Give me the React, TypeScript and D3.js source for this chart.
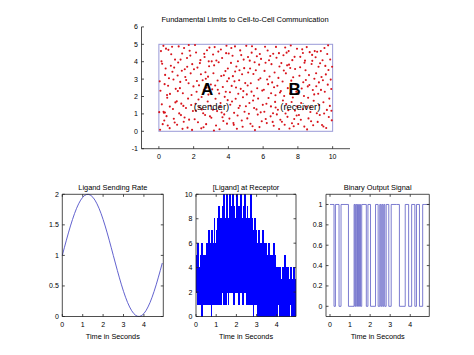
import React from "react";
import * as d3 from "d3";

// ---------- data ----------
// top: particle positions (x, y)
const particlesX: number[] = [
0.12,0.35,0.78,0.05,0.51,0.93,0.27,0.64,0.19,0.86,0.41,0.07,0.58,0.95,0.33,0.71,0.22,0.48,0.84,0.15,0.62,0.39,0.97,0.29,0.55,0.81,0.09,0.44,0.69,0.26,0.91,0.53,0.17,0.76,0.36,0.63,0.02,0.88,0.47,0.31,
1.08,1.43,1.77,1.21,1.56,1.92,1.34,1.65,1.03,1.88,1.27,1.49,1.71,1.14,1.96,1.38,1.62,1.05,1.83,1.29,1.57,1.74,1.11,1.45,1.91,1.23,1.68,1.36,1.81,1.52,1.17,1.99,1.41,1.63,1.25,1.86,1.09,1.72,1.48,1.32,
2.14,2.47,2.83,2.06,2.59,2.91,2.28,2.72,2.36,2.97,2.19,2.63,2.44,2.85,2.02,2.55,2.77,2.31,2.68,2.11,2.94,2.39,2.52,2.25,2.81,2.08,2.66,2.42,2.89,2.17,2.74,2.33,2.61,2.99,2.22,2.57,2.87,2.46,2.13,2.70,
3.07,3.42,3.76,3.18,3.55,3.93,3.29,3.64,3.11,3.83,3.47,3.21,3.71,3.38,3.96,3.04,3.59,3.26,3.87,3.49,3.14,3.68,3.35,3.92,3.02,3.57,3.79,3.24,3.44,3.85,3.12,3.66,3.31,3.52,3.97,3.17,3.74,3.39,3.61,3.89,
4.11,4.46,4.82,4.24,4.57,4.93,4.35,4.68,4.06,4.79,4.42,4.15,4.71,4.29,4.88,4.53,4.19,4.64,4.38,4.97,4.02,4.59,4.84,4.26,4.49,4.74,4.09,4.33,4.91,4.62,4.17,4.44,4.77,4.55,4.21,4.86,4.39,4.03,4.66,4.31,
5.13,5.48,5.84,5.06,5.57,5.92,5.25,5.71,5.39,5.03,5.66,5.18,5.88,5.44,5.29,5.77,5.09,5.62,5.95,5.34,5.53,5.21,5.81,5.47,5.14,5.69,5.36,5.98,5.27,5.74,5.58,5.11,5.42,5.86,5.23,5.64,5.01,5.79,5.51,5.33,
6.08,6.43,6.77,6.19,6.52,6.94,6.26,6.61,6.04,6.85,6.37,6.71,6.15,6.58,6.92,6.31,6.66,6.11,6.82,6.45,6.23,6.74,6.55,6.97,6.34,6.69,6.07,6.48,6.88,6.21,6.63,6.41,6.79,6.14,6.57,6.91,6.29,6.72,6.46,6.99,
7.12,7.47,7.83,7.24,7.56,7.91,7.33,7.68,7.05,7.79,7.42,7.17,7.73,7.29,7.95,7.52,7.21,7.64,7.38,7.87,7.08,7.59,7.31,7.96,7.45,7.76,7.14,7.62,7.35,7.84,7.02,7.49,7.71,7.27,7.93,7.55,7.19,7.81,7.40,7.66,
8.13,8.48,8.82,8.06,8.57,8.91,8.25,8.64,8.37,8.03,8.76,8.41,8.19,8.68,8.95,8.31,8.53,8.86,8.14,8.72,8.44,8.09,8.61,8.97,8.28,8.79,8.35,8.66,8.02,8.51,8.88,8.22,8.59,8.94,8.38,8.74,8.17,8.46,8.83,8.29,
9.11,9.44,9.78,9.23,9.58,9.92,9.32,9.67,9.05,9.86,9.39,9.72,9.17,9.53,9.95,9.28,9.63,9.09,9.81,9.47,9.21,9.76,9.36,9.89,9.02,9.55,9.69,9.14,9.97,9.42,9.26,9.84,9.51,9.06,9.74,9.33,9.61,9.93,9.19,9.47
];
const particlesY: number[] = [
4.61,1.08,3.42,2.87,0.33,4.12,1.12,2.15,3.88,0.72,4.75,0.09,3.05,1.66,2.71,4.43,0.41,1.93,2.98,4.02,0.18,3.61,2.44,1.07,4.68,1.28,2.33,0.87,3.77,4.91,0.51,2.62,1.55,4.86,3.24,1.42,1.10,3.66,2.08,0.62,
3.21,0.55,4.63,2.48,1.34,3.86,4.47,0.21,1.72,2.09,0.93,3.57,2.76,4.88,1.17,2.19,4.21,0.38,3.33,1.59,2.95,0.67,3.95,4.79,0.08,2.84,1.88,0.14,4.35,3.12,1.03,2.58,1.46,3.71,4.12,1.51,2.31,4.96,0.79,3.48,
4.53,1.26,3.14,0.69,2.37,4.81,1.83,0.41,3.92,1.47,2.89,4.27,0.17,2.11,3.57,1.04,4.66,2.64,3.39,1.58,0.86,4.09,2.93,0.52,1.71,4.96,0.94,3.28,3.74,2.27,2.51,1.38,4.45,2.69,3.66,0.23,4.02,1.97,1.19,3.02,
2.41,4.58,0.97,3.79,1.62,2.88,0.33,4.21,1.24,3.46,2.17,4.84,0.59,2.92,1.79,4.02,3.18,1.87,4.49,0.12,3.34,2.55,1.16,0.44,0.78,4.70,1.98,2.63,3.97,2.27,4.41,0.81,4.07,1.41,3.61,0.05,3.22,2.39,1.08,4.92,
1.53,3.72,0.26,4.34,2.16,1.12,2.87,4.65,0.73,3.28,1.87,3.93,2.44,0.48,4.12,0.91,2.61,3.51,4.88,2.77,4.47,1.34,1.96,3.17,0.15,4.38,2.24,1.06,3.63,2.93,4.79,2.52,0.62,4.03,1.71,2.31,3.44,3.04,1.47,0.37,
4.27,1.34,3.05,2.12,4.72,0.58,3.61,1.88,0.29,4.91,2.47,1.01,4.16,3.29,2.76,3.83,0.74,1.26,2.34,4.52,0.07,1.63,4.44,2.04,3.38,0.96,4.89,1.52,0.43,2.96,3.51,2.63,1.77,1.09,4.06,4.31,1.44,0.24,3.97,2.28,
3.47,0.86,4.23,1.58,2.81,3.72,4.64,0.32,2.39,1.24,3.15,2.07,0.71,4.46,0.13,1.91,3.38,4.86,2.62,1.43,2.98,4.85,0.54,2.23,4.08,1.69,1.12,3.86,3.07,0.47,2.53,4.33,0.97,3.94,1.04,4.49,2.71,1.37,2.19,0.66,
2.86,4.61,1.19,0.38,3.64,2.27,1.57,4.09,3.92,0.71,2.48,4.37,3.11,1.02,4.74,0.16,2.03,1.68,3.79,2.69,0.55,4.93,3.33,1.43,1.21,0.29,1.77,2.91,4.52,3.58,2.31,3.83,1.94,4.82,0.91,2.17,3.49,4.28,0.83,0.46,
3.68,1.42,4.39,0.94,2.58,1.76,4.71,3.23,0.27,2.14,0.58,4.06,1.63,4.55,3.02,2.82,0.11,2.37,4.28,1.11,3.51,3.19,0.74,4.61,1.27,3.87,2.03,2.66,0.42,4.84,0.35,2.46,1.93,2.12,3.94,1.38,0.66,2.95,4.05,4.50,
4.57,2.93,0.82,1.51,3.76,2.43,4.61,1.23,3.34,4.13,0.36,2.68,2.16,4.79,0.63,3.91,0.19,1.04,1.88,1.67,2.81,3.52,3.12,2.97,4.26,2.27,4.44,0.54,3.71,4.08,0.94,1.46,1.02,2.59,4.94,2.38,3.27,1.18,3.71,0.28
];

// bottom left: ligand sending rate, sampled every 0.1 s
const rateT: number[] = [0,0.1,0.2,0.3,0.4,0.5,0.6,0.7,0.8,0.9,1.0,1.1,1.2,1.3,1.4,1.5,1.6,1.7,1.8,1.9,2.0,2.1,2.2,2.3,2.4,2.5,2.6,2.7,2.8,2.9,3.0,3.1,3.2,3.3,3.4,3.5,3.6,3.7,3.8,3.9,4.0,4.1,4.2,4.3,4.4,4.5,4.6,4.7,4.8,4.9];
const rateV: number[] = [1,1.125,1.249,1.368,1.482,1.588,1.685,1.771,1.844,1.905,1.951,1.982,1.998,1.998,1.982,1.951,1.905,1.844,1.771,1.685,1.588,1.482,1.368,1.249,1.125,1.0,0.875,0.751,0.632,0.518,0.412,0.315,0.229,0.156,0.095,0.049,0.018,0.002,0.002,0.018,0.049,0.095,0.156,0.229,0.315,0.412,0.518,0.632,0.751,0.875];

// bottom middle: ligand count at receptor, one value every 0.02 s
const ligandStep = 0.02;
const ligandCount: number[] = [
5,2,4,1,6,2,5,1,3,1,4,2,5,1,6,0,3,4,1,5,2,1,4,1,5,
3,1,6,1,5,2,7,1,4,2,6,1,5,0,7,2,4,1,6,3,8,1,5,2,6,
2,7,1,8,3,6,1,9,2,7,3,8,1,6,2,9,4,7,1,10,3,8,2,7,1,
9,2,10,3,7,1,8,4,10,2,6,2,9,3,7,2,10,4,8,1,9,3,7,2,8,
3,10,2,8,4,9,1,7,3,9,2,10,4,8,2,7,1,9,3,8,2,10,4,7,2,
8,1,9,3,7,1,8,2,6,1,10,3,7,1,8,2,6,0,7,3,8,1,6,2,7,
1,6,0,5,2,7,0,6,3,5,0,6,2,4,0,7,1,5,0,6,1,4,0,6,0,
4,1,5,0,3,6,0,4,2,5,0,3,1,5,0,4,0,6,1,3,0,5,0,4,1,
3,0,4,1,2,3,0,4,0,3,2,0,3,1,4,0,2,3,0,5,0,3,2,4,0,
3,0,2,4,0,3,0,2,3,1,4,0,3,2,0,3,0,4,2,0,3,0,2
];

// bottom right: binary output, switching times and the level from each time on
const binT: number[] = [0,0.2,0.27,0.45,0.55,0.92,1.2,1.24,1.28,1.33,1.37,1.42,1.47,1.52,1.58,1.81,1.89,2.02,2.27,2.4,2.48,2.53,2.58,2.63,2.68,2.73,2.8,2.93,3.05,3.31,3.46,3.75,3.92,4.07,4.23,4.31,4.46,4.62,4.69,4.95];
const binV: number[] = [1,0,1,0,1,0,1,0,1,0,1,0,1,0,1,0,1,0,1,0,1,0,1,0,1,0,1,0,1,1,0,1,0,1,0,1,0,1,1,1];

const topXTicks = [0, 2, 4, 6, 8, 10];
const topYTicks = [-1, 0, 1, 2, 3, 4, 5, 6];
const timeTicks = [0, 1, 2, 3, 4];
const rateTicks = [0, 0.5, 1, 1.5, 2];
const countTicks = [0, 2, 4, 6, 8, 10];
const binTicks = [0, 0.2, 0.4, 0.6, 0.8, 1];

const FONT = "'Liberation Sans', Arial, Helvetica, sans-serif";

type Scale = d3.ScaleLinear<number, number>;

function Frame({ x, y, xt, yt, box, fmtY }: { x: Scale; y: Scale; xt: number[]; yt: number[]; box: boolean; fmtY?: (v: number) => string }) {
  const [x0, x1] = x.range();
  const [y0, y1] = y.range(); // y0 bottom, y1 top
  const tl = 2.5;
  const col = "#222";
  const fy = fmtY || ((v: number) => String(v));
  return (
    <g fontFamily={FONT} fontSize={7} fill="#000">
      <line x1={x0} x2={x1} y1={y0} y2={y0} stroke={col} strokeWidth={0.8} />
      <line x1={x0} x2={x0} y1={y0} y2={y1} stroke={col} strokeWidth={0.8} />
      {box && <line x1={x0} x2={x1} y1={y1} y2={y1} stroke={col} strokeWidth={0.8} />}
      {box && <line x1={x1} x2={x1} y1={y0} y2={y1} stroke={col} strokeWidth={0.8} />}
      {xt.map((v) => (
        <g key={"x" + v}>
          <line x1={x(v)} x2={x(v)} y1={y0} y2={y0 - tl} stroke={col} strokeWidth={0.8} />
          {box && <line x1={x(v)} x2={x(v)} y1={y1} y2={y1 + tl} stroke={col} strokeWidth={0.8} />}
          <text x={x(v)} y={y0 + 10} textAnchor="middle" fill="#000">{v}</text>
        </g>
      ))}
      {yt.map((v) => (
        <g key={"y" + v}>
          <line x1={x0} x2={x0 + tl} y1={y(v)} y2={y(v)} stroke={col} strokeWidth={0.8} />
          {box && <line x1={x1} x2={x1 - tl} y1={y(v)} y2={y(v)} stroke={col} strokeWidth={0.8} />}
          <text x={x0 - 3.5} y={y(v) + 2.5} textAnchor="end" fill="#000">{fy(v)}</text>
        </g>
      ))}
    </g>
  );
}

export default function App() {
  // top scatter
  const xTop = d3.scaleLinear().domain([-1, 11]).range([141.5, 350]);
  const yTop = d3.scaleLinear().domain([-1, 6]).range([148.7, 26.9]);

  const yB0 = 316.5, yB1 = 194.3;
  const xL = d3.scaleLinear().domain([0, 4.95]).range([62.3, 163.3]);
  const yL = d3.scaleLinear().domain([0, 2]).range([yB0, yB1]);
  const xM = d3.scaleLinear().domain([0, 4.95]).range([196, 296]);
  const yM = d3.scaleLinear().domain([0, 10]).range([yB0, yB1]);
  const xR = d3.scaleLinear().domain([-0.2, 4.95]).range([326, 429.3]);
  const yR = d3.scaleLinear().domain([-0.1, 1.1]).range([yB0, yB1]);

  const rateLine = d3.line<number>().x((_, i) => xL(rateT[i])).y((v) => yL(v))(rateV) || "";
  const countLine = d3.line<number>().curve(d3.curveStepAfter).x((_, i) => xM(i * ligandStep)).y((v) => yM(v))(ligandCount) || "";
  const binLine = d3.line<number>().curve(d3.curveStepAfter).x((_, i) => xR(binT[i])).y((v) => yR(v))(binV) || "";

  const fmtBin = (v: number) => (v === 0 || v === 1 ? String(v) : v.toFixed(1));
  const T = { fontFamily: FONT, fill: "#000" };

  return (
    <svg width={474} height={355} style={{ position: "absolute", left: 0, top: 0, background: "#fff" }}>
      <rect x={0} y={0} width={474} height={355} fill="#fff" />
      {/* top */}
      <text x={245} y={21.5} textAnchor="middle" fontSize={7.5} {...T}>Fundamental Limits to Cell-to-Cell Communication</text>
      <Frame x={xTop} y={yTop} xt={topXTicks} yt={topYTicks} box={false} />
      <rect x={xTop(0)} y={yTop(5)} width={xTop(10) - xTop(0)} height={yTop(0) - yTop(5)} fill="none" stroke="#9a9ad8" strokeWidth={1} />
      {particlesX.map((px, i) => (
        <circle key={i} cx={xTop(px)} cy={yTop(particlesY[i])} r={1.05} fill="#d8141c" />
      ))}
      <text x={xTop(2.78)} y={yTop(2.41) + 6} textAnchor="middle" fontSize={17} fontWeight="bold" {...T}>A</text>
      <text x={xTop(7.82)} y={yTop(2.41) + 6} textAnchor="middle" fontSize={17} fontWeight="bold" {...T}>B</text>
      <text x={xTop(3.03)} y={yTop(1.41) + 3.5} textAnchor="middle" fontSize={9.5} {...T}>(sender)</text>
      <text x={xTop(8.14)} y={yTop(1.41) + 3.5} textAnchor="middle" fontSize={9.5} {...T}>(receiver)</text>

      {/* bottom left */}
      <text x={112.8} y={189.5} textAnchor="middle" fontSize={7.4} {...T}>Ligand Sending Rate</text>
      <path d={rateLine} fill="none" stroke="#5050c8" strokeWidth={0.9} />
      <Frame x={xL} y={yL} xt={timeTicks} yt={rateTicks} box={true} />
      <text x={112.8} y={338.5} textAnchor="middle" fontSize={7.3} {...T}>Time in Seconds</text>

      {/* bottom middle */}
      <path d={countLine} fill="none" stroke="#0000ff" strokeWidth={1.3} shapeRendering="crispEdges" />
      <text x={246} y={189.5} textAnchor="middle" fontSize={7.4} {...T}>[Ligand] at Receptor</text>
      <Frame x={xM} y={yM} xt={timeTicks} yt={countTicks} box={true} />
      <text x={246} y={338.5} textAnchor="middle" fontSize={7.3} {...T}>Time in Seconds</text>

      {/* bottom right */}
      <text x={377.7} y={189.5} textAnchor="middle" fontSize={7.4} {...T}>Binary Output Signal</text>
      <path d={binLine} fill="none" stroke="#5a5ac4" strokeWidth={0.8} />
      <Frame x={xR} y={yR} xt={timeTicks} yt={binTicks} box={true} fmtY={fmtBin} />
      <text x={377.7} y={338.5} textAnchor="middle" fontSize={7.3} {...T}>Time in Seconds</text>
    </svg>
  );
}
